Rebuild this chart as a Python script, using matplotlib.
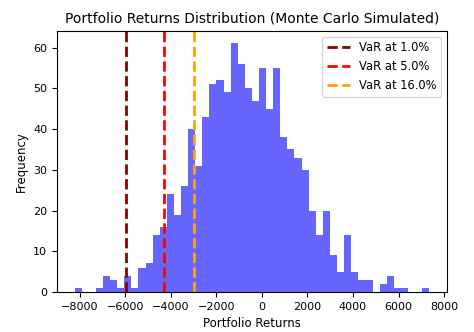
import numpy as np
import matplotlib
matplotlib.use("Agg")
import matplotlib.pyplot as plt

# histogram counts (50 bins)
counts = [1, 0, 0, 1, 4, 3, 1, 4, 1, 6,
          7, 14, 16, 24, 19, 26, 40, 31, 43, 51,
          52, 49, 61, 56, 50, 47, 55, 45, 55, 38,
          35, 33, 30, 20, 14, 20, 9, 5, 14, 5,
          3, 3, 0, 2, 4, 1, 1, 0, 0, 1]
ret_min = -8230
ret_max = 7350

var_levels = [1.0, 5.0, 16.0]
var_values = [-5990, -4290, -2970]
var_colors = ['darkred', 'red', 'orange']

edges = np.linspace(ret_min, ret_max, len(counts) + 1)
centers = (edges[:-1] + edges[1:]) / 2

fig = plt.figure(figsize=(4.74, 3.32), dpi=100)
ax = fig.add_axes([0.120, 0.1205, 0.823, 0.786])
ax.hist(centers, bins=edges, weights=counts, color='blue', alpha=0.6)
for lvl, val, col in zip(var_levels, var_values, var_colors):
    ax.axvline(val, color=col, linestyle='--', linewidth=2, label=f'VaR at {lvl}%')
ax.set_title('Portfolio Returns Distribution (Monte Carlo Simulated)', fontsize=10)
ax.set_xlabel('Portfolio Returns', fontsize=8.5)
ax.set_ylabel('Frequency', fontsize=8.5)
ax.tick_params(labelsize=8)
ax.set_xticks(np.arange(-8000, 8001, 2000))
ax.legend(loc='upper right', fontsize=8.3)
fig.savefig('out.png', dpi=100)
